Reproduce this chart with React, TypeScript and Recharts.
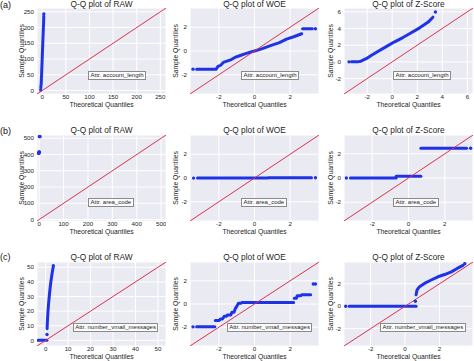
import React from "react";
import { ComposedChart, XAxis, YAxis, CartesianGrid, Line, Scatter } from "recharts";

type Pt = { x: number; y: number };
const pts = (xs: number[], ys: number[]): Pt[] => xs.map((x, i) => ({ x, y: ys[i] }));

// ---- (a) account_length ----
const rawAccX = [-3.4, -3.0, -2.5, -2.0, -1.5, -1.0, -0.5, 0, 0.5, 1.0, 1.5, 2.0, 2.5, 3.0, 3.3];
const rawAccY = [1, 6, 16, 22, 42, 61, 81, 101, 121, 141, 161, 181, 200, 218, 236];
const rawAccDotX = [3.42];
const rawAccDotY = [243];

const woeAccX = [-3.25, -2.15, -2.05, -1.9, -1.75, -1.55, -1.3, -1.1, -0.8, -0.5, -0.2, 0, 0.4, 0.9, 1.4, 1.8, 2.2, 2.65];
const woeAccY = [-1.53, -1.53, -1.3, -1.2, -0.96, -0.85, -0.72, -0.54, -0.38, -0.22, -0.08, 0, 0.18, 0.45, 0.7, 1.0, 1.2, 1.45];
const woeAccTopX = [2.7, 3.25];
const woeAccTopY = [1.87, 1.87];
const woeAccDotX = [-3.45, 3.42];
const woeAccDotY = [-1.53, 1.87];

const zAccX = [-3.25, -2.75, -2.5, -2.08, -1.68, -1.15, -0.48, 0.19, 0.85, 1.52, 2.19, 2.85, 3.25];
const zAccY = [0, 0, 0.08, 0.38, 0.77, 1.24, 1.82, 2.4, 2.91, 3.49, 4.07, 4.73, 5.35];
const zAccDotX = [-3.45, 3.45];
const zAccDotY = [0, 5.97];

// ---- (b) area_code ----
const rawAreaX = [-3.3, -0.7, -0.6, 0.7, 0.8, 3.3];
const rawAreaY = [408, 408, 415, 415, 510, 510];

const woeAreaX = [-3.2, -0.7, -0.6, 0.7, 0.8, 3.2];
const woeAreaY = [-0.01, -0.01, 0, 0, 0.02, 0.02];
const woeAreaDotX = [-3.42, 3.42];
const woeAreaDotY = [-0.01, 0.02];

const zAreaLowX = [-3.2, -0.68];
const zAreaLowY = [0, 0];
const zAreaMidX = [-0.68, 0.68];
const zAreaMidY = [0.15, 0.15];
const zAreaTopX = [0.68, 3.2];
const zAreaTopY = [2.45, 2.45];
const zAreaDotX = [-3.42, 3.42];
const zAreaDotY = [0, 2.45];

// ---- (c) number_vmail_messages ----
const rawVmZeroX = [-3.4, 0.58];
const rawVmZeroY = [0, 0];
const rawVmX = [0.65, 0.75, 1.0, 1.3, 1.6, 2.0, 2.4, 2.8, 3.1, 3.35];
const rawVmY = [8, 12, 19, 25, 30, 36, 41, 45, 48, 50];
const rawVmDotX = [0.6, 3.42];
const rawVmDotY = [4, 51];

const woeVmLowX = [-3.25, -2.23];
const woeVmLowY = [-1.97, -1.97];
const woeVmMidX = [-2.2, -2.0, -1.9, -1.8, -1.7, -1.58, -1.52, -1.33, -1.27, -1.15, -1.07, -0.97, -0.9, -0.75, -0.7, 2.2];
const woeVmMidY = [-1.43, -1.43, -1.29, -1.29, -1.06, -1.06, -0.95, -0.95, -0.72, -0.72, -0.37, -0.14, 0.06, 0.06, 0.14, 0.14];
const woeVmHighX = [2.23, 2.35, 2.4, 2.6, 2.65, 3.15];
const woeVmHighY = [0.49, 0.49, 0.72, 0.72, 0.8, 0.8];
const woeVmDotX = [-3.45, 3.3, 3.42];
const woeVmDotY = [-1.97, 1.72, 1.72];

const zVmZeroX = [-3.25, 0.64];
const zVmZeroY = [0, 0];
const zVmX = [0.64, 0.7, 0.84, 1.13, 1.52, 1.91, 2.3, 2.69, 3.08, 3.37];
const zVmY = [1.02, 1.46, 1.75, 2.04, 2.34, 2.63, 2.83, 3.07, 3.42, 3.65];
const zVmDotX = [-3.45, 0.6, 3.47];
const zVmDotY = [0, 0.44, 3.8];

// ticks
const ticksAcc = [0, 50, 100, 150, 200, 250];
const ticksArea = [0, 100, 200, 300, 400, 500];
const ticksVm = [0, 10, 20, 30, 40, 50];
const ticksStd = [-2, 0, 2];
const ticksZAcc = [-2, 0, 2, 4, 6];

const BG = "#EAEAF2";
const INK = "#262626";
const BLUE = "#1f33e6";
const RED = "#dc3050";
const FONT = "'Liberation Sans', Arial, sans-serif";

const COLS = [37, 190, 344];
const ROWS = [8, 135, 262];
const HEIGHTS = [86, 86, 84];
const W = 129;
const YW = 40;
const XH = 16;

type PanelSpec = {
  col: number;
  row: number;
  title: string;
  domain: [number, number];
  ticks: number[];
  lines: Pt[][];
  dots: Pt[];
  labelGap: number;
  attr: string;
  boxLeft: number;
};

const panels: PanelSpec[] = [
  { col: 0, row: 0, title: "Q-Q plot of RAW", domain: [-11, 262], ticks: ticksAcc, lines: [pts(rawAccX, rawAccY)], dots: pts(rawAccDotX, rawAccDotY), labelGap: 15.3, attr: "Attr. account_length", boxLeft: 88 },
  { col: 1, row: 0, title: "Q-Q plot of WOE", domain: [-3.62, 3.62], ticks: ticksStd, lines: [pts(woeAccX, woeAccY), pts(woeAccTopX, woeAccTopY)], dots: pts(woeAccDotX, woeAccDotY), labelGap: 14, attr: "Attr. account_length", boxLeft: 241 },
  { col: 2, row: 0, title: "Q-Q plot of Z-Score", domain: [-3.85, 6.45], ticks: ticksZAcc, lines: [pts(zAccX, zAccY)], dots: pts(zAccDotX, zAccDotY), labelGap: 13.7, attr: "Attr. account_length", boxLeft: 393 },
  { col: 0, row: 1, title: "Q-Q plot of RAW", domain: [-9, 520], ticks: ticksArea, lines: [], dots: pts(rawAreaX, rawAreaY), labelGap: 15.3, attr: "Attr. area_code", boxLeft: 88 },
  { col: 1, row: 1, title: "Q-Q plot of WOE", domain: [-3.62, 3.62], ticks: ticksStd, lines: [pts(woeAreaX, woeAreaY)], dots: pts(woeAreaDotX, woeAreaDotY), labelGap: 14, attr: "Attr. area_code", boxLeft: 241 },
  { col: 2, row: 1, title: "Q-Q plot of Z-Score", domain: [-3.55, 3.55], ticks: ticksStd, lines: [pts(zAreaLowX, zAreaLowY), pts(zAreaMidX, zAreaMidY), pts(zAreaTopX, zAreaTopY)], dots: pts(zAreaDotX, zAreaDotY), labelGap: 13.7, attr: "Attr. area_code", boxLeft: 393 },
  { col: 0, row: 2, title: "Q-Q plot of RAW", domain: [-3.85, 53.6], ticks: ticksVm, lines: [pts(rawVmZeroX, rawVmZeroY), pts(rawVmX, rawVmY)], dots: pts(rawVmDotX, rawVmDotY), labelGap: 15.3, attr: "Attr. number_vmail_messages", boxLeft: 72.7 },
  { col: 1, row: 2, title: "Q-Q plot of WOE", domain: [-3.62, 3.62], ticks: ticksStd, lines: [pts(woeVmLowX, woeVmLowY), pts(woeVmMidX, woeVmMidY), pts(woeVmHighX, woeVmHighY)], dots: pts(woeVmDotX, woeVmDotY), labelGap: 14, attr: "Attr. number_vmail_messages", boxLeft: 226.7 },
  { col: 2, row: 2, title: "Q-Q plot of Z-Score", domain: [-3.55, 3.95], ticks: ticksStd, lines: [pts(zVmZeroX, zVmZeroY), pts(zVmX, zVmY)], dots: pts(zVmDotX, zVmDotY), labelGap: 13.7, attr: "Attr. number_vmail_messages", boxLeft: 380 },
];

const dotShape = (p: any) => <circle cx={p.cx} cy={p.cy} r={1.7} fill={BLUE} />;

function Panel({ p }: { p: PanelSpec }) {
  const left = COLS[p.col];
  const top = ROWS[p.row];
  const h = HEIGHTS[p.row];
  const [d0, d1] = p.domain;
  const diag = [
    { x: d0, y: d0 },
    { x: d1, y: d1 },
  ];
  return (
    <>
      <div style={{ position: "absolute", left: left - YW, top }}>
        <ComposedChart width={YW + W} height={h + XH} margin={{ top: 0, right: 0, bottom: 0, left: 0 }}>
          <CartesianGrid fill={BG} stroke="#ffffff" strokeWidth={1} />
          <XAxis
            type="number"
            dataKey="x"
            domain={p.domain}
            ticks={p.ticks}
            allowDataOverflow
            interval={0}
            tickLine={false}
            axisLine={false}
            tickSize={0}
            tickMargin={1}
            height={XH}
            tick={{ fontSize: 6.2, fill: INK }}
            label={{ value: "Theoretical Quantiles", position: "insideBottom", offset: 3, fontSize: 6.8, fill: INK }}
          />
          <YAxis
            type="number"
            dataKey="y"
            domain={p.domain}
            ticks={p.ticks}
            allowDataOverflow
            interval={0}
            tickLine={false}
            axisLine={false}
            tickSize={0}
            tickMargin={3}
            width={YW}
            tick={{ fontSize: 6.2, fill: INK }}
            label={{
              value: "Sample Quantiles",
              angle: -90,
              position: "insideLeft",
              offset: YW - p.labelGap,
              fontSize: 6.8,
              fill: INK,
              style: { textAnchor: "middle" },
            }}
          />
          {p.lines.map((d, i) => (
            <Line
              key={i}
              data={d}
              dataKey="y"
              type="linear"
              stroke={BLUE}
              strokeWidth={3}
              strokeLinecap="round"
              strokeLinejoin="round"
              dot={false}
              isAnimationActive={false}
            />
          ))}
          <Scatter data={p.dots} dataKey="y" fill={BLUE} shape={dotShape} isAnimationActive={false} />
          <Line data={diag} dataKey="y" type="linear" stroke={RED} strokeWidth={1} dot={false} isAnimationActive={false} />
        </ComposedChart>
      </div>
      <div
        style={{
          position: "absolute",
          left: left + W / 2,
          top: top - (p.row === 0 ? 8 : 9),
          transform: "translateX(-50%)",
          fontSize: 8.3,
          lineHeight: "9px",
          color: INK,
          whiteSpace: "nowrap",
        }}
      >
        {p.title}
      </div>
      <div
        style={{
          position: "absolute",
          left: p.boxLeft,
          top: top + h - 23.5,
          fontSize: 6,
          lineHeight: "7px",
          color: INK,
          whiteSpace: "nowrap",
          background: "rgba(255,255,255,0.8)",
          border: "1px solid #8a8a8a",
          padding: "0 1.5px",
        }}
      >
        {p.attr}
      </div>
    </>
  );
}

const letters = ["(a)", "(b)", "(c)"];
const letterY = [0.5, 126.5, 252.5];

export default function App() {
  return (
    <div style={{ position: "absolute", left: 0, top: 0, width: 474, height: 361, background: "#fff", fontFamily: FONT, overflow: "hidden" }}>
      {panels.map((p, i) => (
        <Panel key={i} p={p} />
      ))}
      {letters.map((t, i) => (
        <div key={t} style={{ position: "absolute", left: 0, top: letterY[i], fontSize: 9, lineHeight: "9px", color: "#111" }}>
          {t}
        </div>
      ))}
    </div>
  );
}
